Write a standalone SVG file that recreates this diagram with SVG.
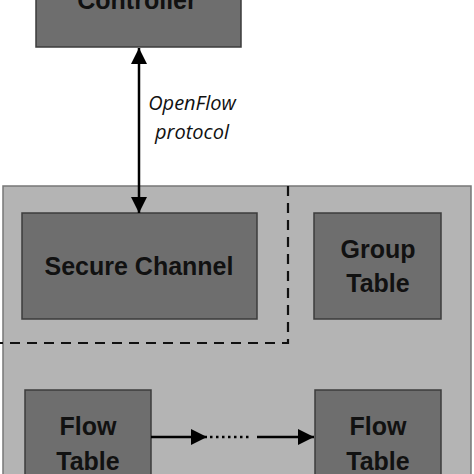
<svg xmlns="http://www.w3.org/2000/svg" width="474" height="474" viewBox="0 0 474 474">
<style>
.box{fill:#6e6e6e;stroke:#3c3c3c;stroke-width:1.5}
.lbl{font-family:"Liberation Sans",Arial,sans-serif;font-weight:bold;font-size:25px;fill:#111;text-anchor:middle}
.it{font-family:"Open Sans","Liberation Sans",sans-serif;font-style:italic;font-size:20px;fill:#111;text-anchor:middle}
.ln{stroke:#000;stroke-width:2.5;fill:none}
</style>
<defs>
<marker id="ah" viewBox="0 0 10 10" refX="10" refY="5" markerWidth="17" markerHeight="16" markerUnits="userSpaceOnUse" orient="auto-start-reverse">
<path d="M0,0 L10,5 L0,10 Z" fill="#000"/>
</marker>
</defs>
<rect width="474" height="474" fill="#fff"/>
<g id="switch">
<rect x="3" y="186" width="468" height="300" fill="#b4b4b4" stroke="#777" stroke-width="1.5"/>
<path d="M288,186 V343 H0" fill="none" stroke="#111" stroke-width="2.2" stroke-dasharray="10,7"/>
</g>
<g id="controller">
<rect class="box" x="36" y="-20" width="205" height="67"/>
<text class="lbl" x="137" y="9">Controller</text>
</g>
<g id="secure-channel">
<rect class="box" x="22" y="213" width="235" height="106"/>
<text class="lbl" x="139" y="275">Secure Channel</text>
</g>
<g id="group-table">
<rect class="box" x="314" y="213" width="127" height="106"/>
<text class="lbl" x="378" y="258">Group</text>
<text class="lbl" x="378" y="292">Table</text>
</g>
<g id="flow-table-1">
<rect class="box" x="25" y="390" width="126" height="100"/>
<text class="lbl" x="88" y="435">Flow</text>
<text class="lbl" x="88" y="470">Table</text>
</g>
<g id="flow-table-2">
<rect class="box" x="315" y="390" width="126" height="100"/>
<text class="lbl" x="378" y="435">Flow</text>
<text class="lbl" x="378" y="470">Table</text>
</g>
<g id="connectors">
<line class="ln" x1="139" y1="48" x2="139" y2="213" marker-start="url(#ah)" marker-end="url(#ah)"/>
<text class="it" x="192" y="110">OpenFlow</text>
<text class="it" x="192" y="139">protocol</text>
<line class="ln" x1="151" y1="437" x2="207" y2="437" marker-end="url(#ah)"/>
<line x1="210" y1="437" x2="252" y2="437" stroke="#000" stroke-width="2.5" stroke-dasharray="2.5,3.5"/>
<line class="ln" x1="257" y1="437" x2="314" y2="437" marker-end="url(#ah)"/>
</g>
</svg>
